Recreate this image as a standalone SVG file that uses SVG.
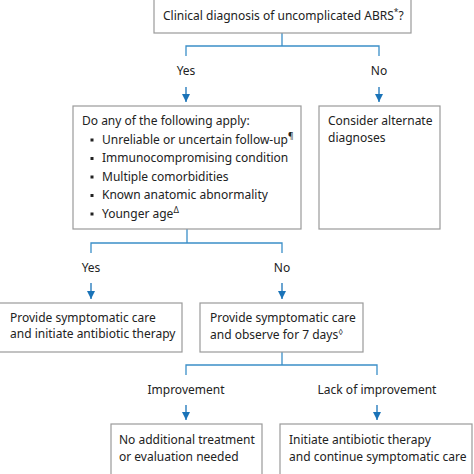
<svg xmlns="http://www.w3.org/2000/svg" width="474" height="474" viewBox="0 0 474 474">
<defs>
<style>
.box{fill:#fff;stroke:#9a9a9a;stroke-width:1.2}
.t{font-family:"Noto Sans","Open Sans",sans-serif;font-size:12px;fill:#222}
.m{text-anchor:middle}
.c{fill:none;stroke:#3b8fc8;stroke-width:1.3}
.a{fill:none;stroke:#1a73b8;stroke-width:1.3}
.sup{font-size:8.5px}
</style>
<marker id="ah" viewBox="0 0 10 10" refX="10" refY="5" markerWidth="8" markerHeight="8" markerUnits="userSpaceOnUse" orient="auto">
<path d="M0,0 L10,5 L0,10 Z" fill="#1a73b8"/>
</marker>
</defs>
<rect width="474" height="474" fill="#fff"/>
<g id="connectors">
<path class="c" d="M282,33 V46 M186,56 V46 H379 V56"/>
<path class="a" d="M186,87 V102" marker-end="url(#ah)"/>
<path class="a" d="M379,87 V102" marker-end="url(#ah)"/>
<path class="c" d="M187,229 V243 M91,253 V243 H282 V253"/>
<path class="a" d="M91,283 V299" marker-end="url(#ah)"/>
<path class="a" d="M282,283 V299" marker-end="url(#ah)"/>
<path class="c" d="M282,352 V365 M186,375 V365 H377 V375"/>
<path class="a" d="M186,405 V420" marker-end="url(#ah)"/>
<path class="a" d="M377,405 V420" marker-end="url(#ah)"/>
<text class="t m" x="186" y="75">Yes</text>
<text class="t m" x="379" y="75">No</text>
<text class="t m" x="91" y="272">Yes</text>
<text class="t m" x="282" y="272">No</text>
<text class="t m" x="186" y="394">Improvement</text>
<text class="t m" x="377" y="394">Lack of improvement</text>
</g>
<g id="n-abrs">
<rect class="box" x="154" y="-5" width="257" height="38"/>
<text class="t" x="163" y="20">Clinical diagnosis of uncomplicated ABRS<tspan class="sup" dy="-5">*</tspan><tspan dy="5">?</tspan></text>
</g>
<g id="n-apply">
<rect class="box" x="73" y="106" width="228" height="123"/>
<text class="t" x="82" y="125">Do any of the following apply:</text>
<g fill="#222">
<rect x="90.5" y="138.5" width="3" height="3"/>
<rect x="90.5" y="157" width="3" height="3"/>
<rect x="90.5" y="175.5" width="3" height="3"/>
<rect x="90.5" y="194" width="3" height="3"/>
<rect x="90.5" y="212.5" width="3" height="3"/>
</g>
<text class="t" x="102" y="143.5">Unreliable or uncertain follow-up<tspan class="sup" dy="-5">¶</tspan></text>
<text class="t" x="102" y="162">Immunocompromising condition</text>
<text class="t" x="102" y="180.5">Multiple comorbidities</text>
<text class="t" x="102" y="199">Known anatomic abnormality</text>
<text class="t" x="102" y="217.5">Younger age<tspan class="sup" dy="-5">Δ</tspan></text>
</g>
<g id="n-alt">
<rect class="box" x="319" y="106" width="121" height="123"/>
<text class="t" x="328" y="125">Consider alternate</text>
<text class="t" x="328" y="142">diagnoses</text>
</g>
<g id="n-antibiotic">
<rect class="box" x="-2" y="303" width="184" height="49"/>
<text class="t" x="10" y="322">Provide symptomatic care</text>
<text class="t" x="10" y="338">and initiate antibiotic therapy</text>
</g>
<g id="n-observe">
<rect class="box" x="200" y="303" width="163" height="49"/>
<text class="t" x="210" y="321.5">Provide symptomatic care</text>
<text class="t" x="210" y="338.5">and observe for 7 days<tspan class="sup" dy="-4">◊</tspan></text>
</g>
<g id="n-none">
<rect class="box" x="111" y="424" width="151" height="60"/>
<text class="t" x="119" y="444">No additional treatment</text>
<text class="t" x="119" y="461">or evaluation needed</text>
</g>
<g id="n-initiate">
<rect class="box" x="280" y="424" width="192" height="60"/>
<text class="t" x="289" y="444">Initiate antibiotic therapy</text>
<text class="t" x="289" y="461">and continue symptomatic care</text>
</g>
</svg>
